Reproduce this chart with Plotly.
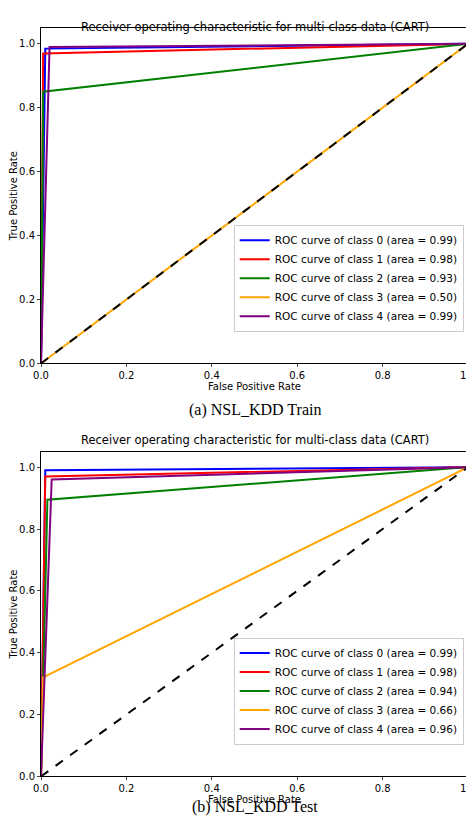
import plotly.graph_objects as go

# ROC points (fpr, tpr per class)
classes = ["0", "1", "2", "3", "4"]
colors = ["blue", "red", "green", "orange", "purple"]

train_fpr = [[0, 0.01, 1], [0, 0.005, 1], [0, 0.005, 1], [0, 1], [0, 0.02, 1]]
train_tpr = [[0, 0.985, 1], [0, 0.97, 1], [0, 0.85, 1], [0, 1], [0, 0.99, 1]]
train_auc = ["0.99", "0.98", "0.93", "0.50", "0.99"]

test_fpr = [[0, 0.01, 1], [0, 0.01, 1], [0, 0.015, 1], [0, 0.005, 1], [0, 0.025, 1]]
test_tpr = [[0, 0.99, 1], [0, 0.97, 1], [0, 0.895, 1], [0, 0.32, 1], [0, 0.96, 1]]
test_auc = ["0.99", "0.98", "0.94", "0.66", "0.96"]

ticks = [0.0, 0.2, 0.4, 0.6, 0.8, 1.0]
tick_text = ["0.0", "0.2", "0.4", "0.6", "0.8", "1.0"]

H = 827
fig = go.Figure()

panels = [
    (train_fpr, train_tpr, train_auc, "x", "y", "legend", [1 - 358 / H, 1 - 20 / H]),
    (test_fpr, test_tpr, test_auc, "x2", "y2", "legend2", [1 - 774 / H, 1 - 447 / H]),
]

for fpr, tpr, auc, xa, ya, leg, dom in panels:
    for c, col, fx, ty, a in zip(classes, colors, fpr, tpr, auc):
        fig.add_trace(go.Scatter(
            x=fx, y=ty, mode="lines", line=dict(color=col, width=2),
            name=f"ROC curve of class {c} (area = {a})",
            xaxis=xa, yaxis=ya, legend=leg,
        ))
    fig.add_trace(go.Scatter(
        x=[0, 1], y=[0, 1], mode="lines",
        line=dict(color="black", width=2, dash="dash"),
        showlegend=False, xaxis=xa, yaxis=ya,
    ))

axis_common = dict(
    range=[0, 1], tickvals=ticks, ticktext=tick_text, showgrid=False,
    zeroline=False, showline=True, mirror=True, linecolor="black",
    ticks="outside", ticklen=3, tickfont=dict(size=10, color="black"),
)
yaxis_common = dict(axis_common, range=[0, 1.05])

legend_common = dict(
    xanchor="right", yanchor="bottom", x=0.99,
    bgcolor="white", bordercolor="#cccccc", borderwidth=1,
    font=dict(size=10.5, color="black"), tracegroupgap=0,
)

xtitle = dict(text="False Positive Rate", font=dict(size=10), standoff=0)
ytitle = dict(text="True Positive Rate", font=dict(size=10), standoff=4)

fig.update_layout(
    width=474, height=H,
    margin=dict(l=32, r=14, t=0, b=0),
    paper_bgcolor="white", plot_bgcolor="white",
    font=dict(family="DejaVu Sans", color="black"),
    xaxis=dict(axis_common, domain=[0, 1], anchor="y", title=xtitle),
    yaxis=dict(yaxis_common, domain=panels[0][6], anchor="x", title=ytitle),
    xaxis2=dict(axis_common, domain=[0, 1], anchor="y2", title=xtitle),
    yaxis2=dict(yaxis_common, domain=panels[1][6], anchor="x2", title=ytitle),
    legend=dict(legend_common, y=1 - 326 / H),
    legend2=dict(legend_common, y=1 - 742 / H),
    showlegend=True,
    annotations=[
        dict(text="Receiver operating characteristic for multi-class data (CART)",
             x=0.5, y=1 - 10 / H, xref="paper", yref="paper", showarrow=False,
             font=dict(size=11.5)),
        dict(text="(a) NSL_KDD Train", x=0.5, y=1 - 405 / H, xref="paper",
             yref="paper", showarrow=False,
             font=dict(family="Liberation Serif", size=16)),
        dict(text="Receiver operating characteristic for multi-class data (CART)",
             x=0.5, y=1 - 435 / H, xref="paper", yref="paper", showarrow=False,
             font=dict(size=11.5)),
        dict(text="(b) NSL_KDD Test", x=0.5, y=1 - 816 / H, xref="paper",
             yref="paper", showarrow=False,
             font=dict(family="Liberation Serif", size=16)),
    ],
)

fig.write_html("out.html")
